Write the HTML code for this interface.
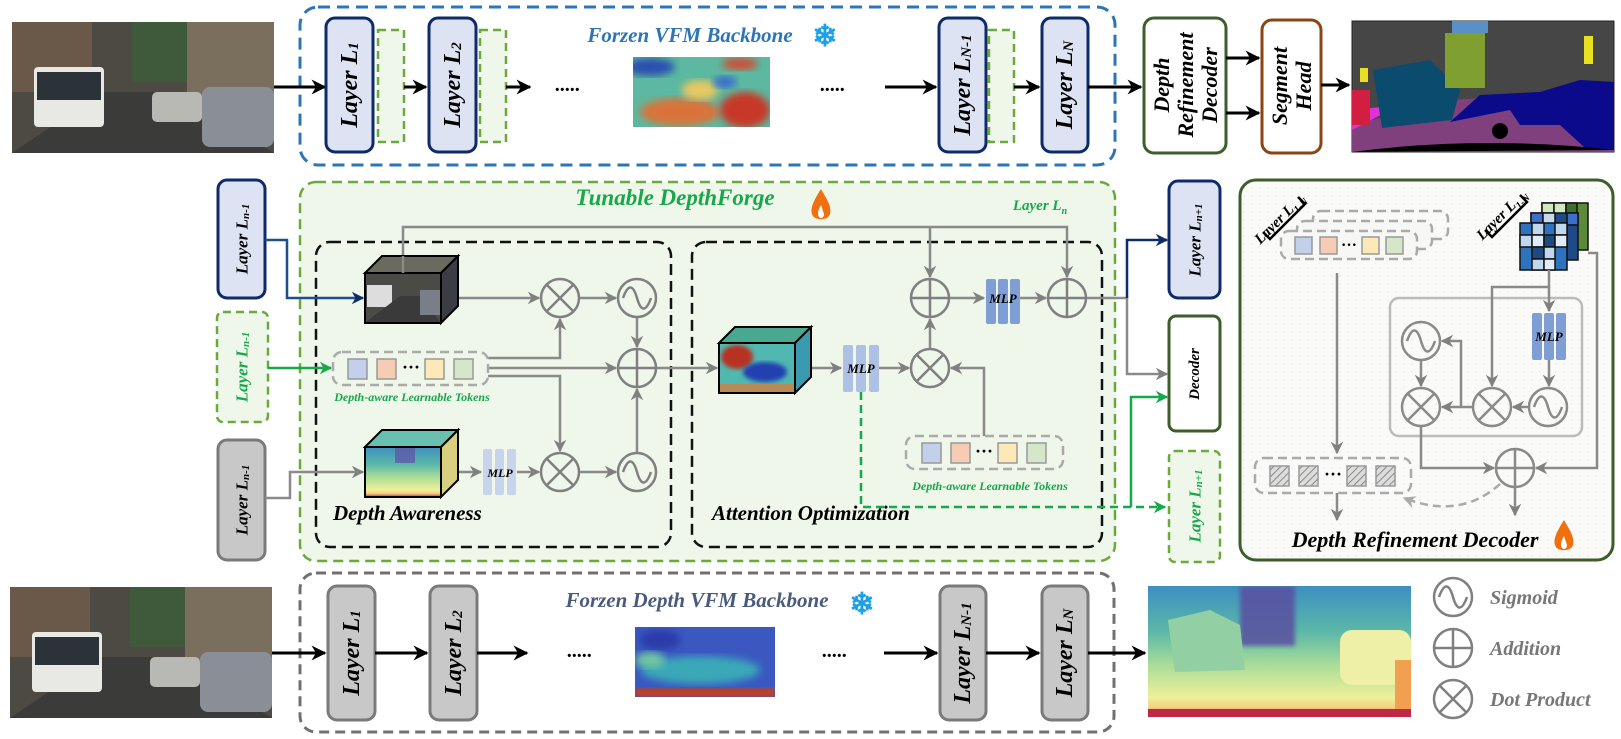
<!DOCTYPE html>
<html><head><meta charset="utf-8"><style>
html,body{margin:0;padding:0;background:#fff;}
svg{display:block;}
text{font-family:"Liberation Serif",serif;font-weight:bold;font-style:italic;}
</style></head><body>
<svg width="1621" height="739" viewBox="0 0 1621 739" xmlns="http://www.w3.org/2000/svg">
<defs>
<marker id="ab" viewBox="0 0 10 10" refX="9" refY="5" markerWidth="5" markerHeight="5" orient="auto"><path d="M0,0 L10,5 L0,10 L3,5z" fill="#000"/></marker>
<marker id="ag" viewBox="0 0 10 10" refX="9" refY="5" markerWidth="5" markerHeight="5" orient="auto"><path d="M0,0 L10,5 L0,10 L3,5z" fill="#808080"/></marker>
<marker id="an" viewBox="0 0 10 10" refX="9" refY="5" markerWidth="5" markerHeight="5" orient="auto"><path d="M0,0 L10,5 L0,10 L3,5z" fill="#0d2a6b"/></marker>
<marker id="agr" viewBox="0 0 10 10" refX="9" refY="5" markerWidth="5" markerHeight="5" orient="auto"><path d="M0,0 L10,5 L0,10 L3,5z" fill="#17a84a"/></marker>
<marker id="alg" viewBox="0 0 10 10" refX="9" refY="5" markerWidth="5" markerHeight="5" orient="auto"><path d="M0,0 L10,5 L0,10 L3,5z" fill="#aaa"/></marker>
<pattern id="hatch" width="5" height="5" patternUnits="userSpaceOnUse" patternTransform="rotate(45)"><rect width="5" height="5" fill="#ddd"/><line x1="0" y1="0" x2="0" y2="5" stroke="#888" stroke-width="2"/></pattern>
<pattern id="dots" width="8" height="8" patternUnits="userSpaceOnUse"><rect width="8" height="8" fill="#fafaf8"/><circle cx="4" cy="4" r="0.7" fill="#e4e8dc"/></pattern>
<linearGradient id="depthg" x1="0" y1="0" x2="0" y2="1"><stop offset="0" stop-color="#3d8fc0"/><stop offset="0.35" stop-color="#5cb8a8"/><stop offset="0.6" stop-color="#a8dc98"/><stop offset="0.85" stop-color="#eef09a"/><stop offset="0.93" stop-color="#f3d080"/><stop offset="1" stop-color="#c0304a"/></linearGradient>
<filter id="bl"><feGaussianBlur stdDeviation="4"/></filter>
<filter id="bl2"><feGaussianBlur stdDeviation="2"/></filter>
<clipPath id="c1"><rect x="633" y="57" width="137" height="70"/></clipPath>
<clipPath id="c2"><rect x="635" y="627" width="140" height="70"/></clipPath>
<clipPath id="c3"><rect x="1148" y="586" width="263" height="131"/></clipPath>
<g id="photo">
<rect x="0" y="0" width="262" height="131" fill="#4d4a44"/>
<rect x="0" y="0" width="80" height="70" fill="#6a5848"/>
<rect x="120" y="0" width="60" height="60" fill="#3f5a3a"/>
<rect x="175" y="0" width="87" height="80" fill="#7a6e5c"/>
<polygon points="0,131 90,70 160,70 262,131" fill="#3b3b3a"/>
<rect x="22" y="45" width="70" height="60" rx="4" fill="#e8e8e4"/>
<rect x="25" y="50" width="64" height="28" fill="#2b3238"/>
<rect x="190" y="65" width="72" height="60" rx="8" fill="#8a8e96"/>
<rect x="140" y="70" width="50" height="30" rx="5" fill="#b8b8b4"/>
</g>
</defs>

<!-- ===== TOP ROW ===== -->
<use href="#photo" x="12" y="22"/>
<rect x="300" y="7" width="815" height="158" rx="18" fill="none" stroke="#2e75b6" stroke-width="3" stroke-dasharray="12,7"/>
<text x="690" y="42" font-size="21" fill="#2e75b6" text-anchor="middle">Forzen VFM Backbone</text>
<text x="825" y="46" font-size="30" fill="#1ea0e6" text-anchor="middle" style="font-style:normal">❄</text>
<line x1="274" y1="87" x2="325" y2="87" stroke="#000" stroke-width="3" marker-end="url(#ab)"/>
<rect x="326" y="18" width="47" height="134" rx="9" fill="#dde3f3" stroke="#0d2a6b" stroke-width="3"/>
<rect x="378" y="30" width="26" height="112" fill="#eff6ea" stroke="#6aaa3a" stroke-width="2.5" stroke-dasharray="8,5"/>
<text transform="translate(350,85) rotate(-90)" font-size="24" text-anchor="middle" dominant-baseline="central">Layer L<tspan font-size="15" dy="4">1</tspan></text>
<line x1="404" y1="87" x2="426" y2="87" stroke="#000" stroke-width="3" marker-end="url(#ab)"/>
<rect x="429" y="18" width="47" height="134" rx="9" fill="#dde3f3" stroke="#0d2a6b" stroke-width="3"/>
<rect x="480" y="30" width="26" height="112" fill="#eff6ea" stroke="#6aaa3a" stroke-width="2.5" stroke-dasharray="8,5"/>
<text transform="translate(453,85) rotate(-90)" font-size="24" text-anchor="middle" dominant-baseline="central">Layer L<tspan font-size="15" dy="4">2</tspan></text>
<line x1="506" y1="87" x2="530" y2="87" stroke="#000" stroke-width="3" marker-end="url(#ab)"/>
<text x="568" y="91" font-size="20" text-anchor="middle">.....</text>
<g clip-path="url(#c1)">
<rect x="633" y="57" width="137" height="70" fill="#5cb8a0"/>
<ellipse cx="680" cy="112" rx="40" ry="14" fill="#d9733a" filter="url(#bl)"/>
<ellipse cx="745" cy="110" rx="25" ry="18" fill="#c83828" filter="url(#bl)"/>
<ellipse cx="650" cy="67" rx="25" ry="9" fill="#2a4fb0" filter="url(#bl)"/>
<ellipse cx="740" cy="64" rx="18" ry="6" fill="#d24a30" filter="url(#bl)"/>
<ellipse cx="700" cy="90" rx="18" ry="10" fill="#e8c860" filter="url(#bl)"/>
<ellipse cx="725" cy="82" rx="12" ry="6" fill="#3a6ad0" filter="url(#bl)"/>
</g>
<text x="833" y="91" font-size="20" text-anchor="middle">.....</text>
<line x1="885" y1="87" x2="936" y2="87" stroke="#000" stroke-width="3" marker-end="url(#ab)"/>
<rect x="939" y="18" width="47" height="134" rx="9" fill="#dde3f3" stroke="#0d2a6b" stroke-width="3"/>
<rect x="989" y="30" width="25" height="112" fill="#eff6ea" stroke="#6aaa3a" stroke-width="2.5" stroke-dasharray="8,5"/>
<text transform="translate(963,85) rotate(-90)" font-size="24" text-anchor="middle" dominant-baseline="central">Layer L<tspan font-size="15" dy="4">N-1</tspan></text>
<line x1="1014" y1="87" x2="1039" y2="87" stroke="#000" stroke-width="3" marker-end="url(#ab)"/>
<rect x="1042" y="18" width="46" height="134" rx="9" fill="#dde3f3" stroke="#0d2a6b" stroke-width="3"/>
<text transform="translate(1065,85) rotate(-90)" font-size="24" text-anchor="middle" dominant-baseline="central">Layer L<tspan font-size="15" dy="4">N</tspan></text>
<line x1="1088" y1="87" x2="1141" y2="87" stroke="#000" stroke-width="3" marker-end="url(#ab)"/>
<rect x="1144" y="18" width="82" height="135" rx="10" fill="#fff" stroke="#3d5e2a" stroke-width="3"/>
<text transform="translate(1185,85) rotate(-90)" font-size="22" text-anchor="middle"><tspan x="0" dy="-16">Depth</tspan><tspan x="0" dy="24">Refinement</tspan><tspan x="0" dy="24">Decoder</tspan></text>
<line x1="1226" y1="58" x2="1259" y2="58" stroke="#000" stroke-width="3" marker-end="url(#ab)"/>
<line x1="1226" y1="113" x2="1259" y2="113" stroke="#000" stroke-width="3" marker-end="url(#ab)"/>
<rect x="1262" y="20" width="59" height="133" rx="10" fill="#fff" stroke="#8b4513" stroke-width="3"/>
<text transform="translate(1291,86) rotate(-90)" font-size="22" text-anchor="middle"><tspan x="0" dy="-4">Segment</tspan><tspan x="0" dy="24">Head</tspan></text>
<line x1="1321" y1="85" x2="1349" y2="85" stroke="#000" stroke-width="3" marker-end="url(#ab)"/>
<rect x="1352" y="21" width="262" height="131" fill="#464646" stroke="#222" stroke-width="1"/>
<polygon points="1352,125 1450,100 1530,95 1614,100 1614,152 1352,152" fill="#80407e"/>
<polygon points="1352,110 1400,105 1352,130" fill="#e030d8"/>
<rect x="1352" y="90" width="18" height="35" fill="#d21e40"/>
<polygon points="1373,70 1430,60 1460,90 1452,120 1382,128" fill="#0b4c6e"/>
<polygon points="1450,122 1480,95 1540,92 1580,80 1614,82 1614,150 1585,148 1560,125 1520,125 1510,110" fill="#0a0a8a"/>
<rect x="1445" y="33" width="40" height="55" fill="#7fa030"/>
<rect x="1452" y="21" width="36" height="12" fill="#5a90c8"/>
<rect x="1584" y="36" width="9" height="28" fill="#e8e020"/>
<rect x="1360" y="68" width="8" height="14" fill="#e8e020"/>
<path d="M1352,152 Q1480,135 1614,150 Z" fill="#000"/>
<circle cx="1500" cy="131" r="8" fill="#000"/>

<!-- ===== MIDDLE ===== -->
<rect x="218" y="180" width="47" height="118" rx="9" fill="#dde3f3" stroke="#0d2a6b" stroke-width="3"/>
<text transform="translate(242,239) rotate(-90)" font-size="17" text-anchor="middle" dominant-baseline="central">Layer L<tspan font-size="11" dy="4">n-1</tspan></text>
<rect x="217" y="312" width="51" height="110" rx="6" fill="#eff6ea" stroke="#6aaa3a" stroke-width="2.5" stroke-dasharray="8,5"/>
<text transform="translate(242,367) rotate(-90)" font-size="17" fill="#17a84a" text-anchor="middle" dominant-baseline="central">Layer L<tspan font-size="11" dy="4">n-1</tspan></text>
<rect x="218" y="440" width="47" height="120" rx="9" fill="#c8c8c8" stroke="#7a7a7a" stroke-width="3"/>
<text transform="translate(242,500) rotate(-90)" font-size="17" text-anchor="middle" dominant-baseline="central">Layer L<tspan font-size="11" dy="4">n-1</tspan></text>

<rect x="300" y="182" width="815" height="379" rx="16" fill="#eff6ea" stroke="#6aaa3a" stroke-width="2.5" stroke-dasharray="10,6"/>
<text x="675" y="205" font-size="23" fill="#17a84a" text-anchor="middle">Tunable DepthForge</text>
<path d="M821,189 C814,200 810,208 812,214 C814,221 828,221 830,214 C832,206 826,198 821,189Z" fill="#f07010"/>
<path d="M821,205 C818,210 817,214 819,217 C821,219 824,218 824,214 Z" fill="#fff"/>
<text x="1040" y="210" font-size="15" fill="#17a84a" text-anchor="middle">Layer L<tspan font-size="10" dy="4">n</tspan></text>

<rect x="316" y="242" width="355" height="305" rx="14" fill="none" stroke="#111" stroke-width="2.5" stroke-dasharray="11,6"/>
<rect x="692" y="242" width="410" height="305" rx="14" fill="none" stroke="#111" stroke-width="2.5" stroke-dasharray="11,6"/>
<text x="333" y="520" font-size="21">Depth Awareness</text>
<text x="712" y="520" font-size="21">Attention Optimization</text>

<g stroke="#8a8a8a" stroke-width="2.5" fill="none">
<polyline points="403,273 403,227 1067,227 1067,277" marker-end="url(#ag)"/>
<line x1="930" y1="227" x2="930" y2="277" marker-end="url(#ag)"/>
<line x1="441" y1="298" x2="539" y2="298" marker-end="url(#ag)"/>
<line x1="579" y1="298" x2="616" y2="298" marker-end="url(#ag)"/>
<line x1="637" y1="317" x2="637" y2="347" marker-end="url(#ag)"/>
<polyline points="488,358 560,358 560,319" marker-end="url(#ag)"/>
<line x1="488" y1="368" x2="616" y2="368" marker-end="url(#ag)"/>
<polyline points="488,376 560,376 560,451" marker-end="url(#ag)"/>
<line x1="441" y1="472" x2="481" y2="472" marker-end="url(#ag)"/>
<line x1="517" y1="472" x2="539" y2="472" marker-end="url(#ag)"/>
<line x1="579" y1="472" x2="616" y2="472" marker-end="url(#ag)"/>
<line x1="637" y1="453" x2="637" y2="389" marker-end="url(#ag)"/>
<polyline points="265,498 290,498 290,472 363,472" marker-end="url(#ag)"/>
<line x1="656" y1="368" x2="717" y2="368" marker-end="url(#ag)"/>
<line x1="795" y1="368" x2="841" y2="368" marker-end="url(#ag)"/>
<line x1="878" y1="368" x2="909" y2="368" marker-end="url(#ag)"/>
<line x1="930" y1="349" x2="930" y2="319" marker-end="url(#ag)"/>
<line x1="949" y1="298" x2="984" y2="298" marker-end="url(#ag)"/>
<line x1="1019" y1="298" x2="1046" y2="298" marker-end="url(#ag)"/>
<polyline points="984,436 984,368 951,368" marker-end="url(#ag)"/>
<polyline points="1086,298 1127,298 1127,374 1167,374" marker-end="url(#ag)"/>
</g>
<polyline points="265,240 287,240 287,298 363,298" fill="none" stroke="#1f4e8c" stroke-width="2.5" marker-end="url(#an)"/>
<line x1="268" y1="368" x2="331" y2="368" stroke="#17a84a" stroke-width="2.5" marker-end="url(#agr)"/>
<polyline points="1127,298 1127,240 1167,240" fill="none" stroke="#0d2a6b" stroke-width="2.5" marker-end="url(#an)"/>
<polyline points="861,392 861,507 1165,507" fill="none" stroke="#17a84a" stroke-width="2.5" stroke-dasharray="8,5" marker-end="url(#agr)"/>
<polyline points="1131,507 1131,397 1167,397" fill="none" stroke="#17a84a" stroke-width="2.5" marker-end="url(#agr)"/>

<!-- cube1 photo -->
<polygon points="365,273 382,256 458,256 441,273" fill="#6a6a5e" stroke="#000" stroke-width="2"/>
<polygon points="441,273 458,256 458,306 441,323" fill="#3a3d44" stroke="#000" stroke-width="2"/>
<rect x="365" y="273" width="76" height="50" fill="#4a4a46" stroke="#000" stroke-width="2"/>
<rect x="367" y="285" width="25" height="22" fill="#ddd"/>
<polygon points="366,322 400,296 420,296 440,322" fill="#3a3a3a"/>
<rect x="420" y="290" width="20" height="25" fill="#7a7e88"/>
<line x1="403" y1="273" x2="403" y2="256" stroke="#8a8a8a" stroke-width="2.5"/>
<!-- cube2 depth -->
<polygon points="365,447 382,430 458,430 441,447" fill="#6ac0b0" stroke="#000" stroke-width="2"/>
<polygon points="441,447 458,430 458,480 441,497" fill="#d8d080" stroke="#000" stroke-width="2"/>
<rect x="365" y="447" width="76" height="50" fill="url(#depthg)" stroke="#000" stroke-width="2"/>
<rect x="395" y="448" width="20" height="15" fill="#5c5aa8" opacity="0.8"/>
<!-- cube3 heat -->
<polygon points="719,343 735,327 811,327 795,343" fill="#4aa890" stroke="#000" stroke-width="2"/>
<polygon points="795,343 811,327 811,377 795,393" fill="#3a9ab0" stroke="#000" stroke-width="2"/>
<rect x="719" y="343" width="76" height="50" fill="#50b8b0" stroke="#000" stroke-width="2"/>
<ellipse cx="737" cy="357" rx="16" ry="12" fill="#b83020" filter="url(#bl2)"/>
<ellipse cx="765" cy="372" rx="22" ry="10" fill="#2040b0" filter="url(#bl2)"/>
<rect x="720" y="384" width="74" height="8" fill="#d08040" opacity="0.8"/>

<!-- MLPs -->
<g fill="#c8d4ec"><rect x="483" y="449" width="9" height="46" rx="2"/><rect x="495" y="449" width="9" height="46" rx="2"/><rect x="507" y="449" width="9" height="46" rx="2"/></g>
<text x="500" y="477" font-size="12" text-anchor="middle">MLP</text>
<g fill="#aec0e4"><rect x="843" y="345" width="10" height="47" rx="2"/><rect x="856" y="345" width="10" height="47" rx="2"/><rect x="869" y="345" width="10" height="47" rx="2"/></g>
<text x="861" y="373" font-size="13" text-anchor="middle">MLP</text>
<g fill="#7f9ed6"><rect x="986" y="279" width="10" height="45" rx="2"/><rect x="998" y="279" width="10" height="45" rx="2"/><rect x="1010" y="279" width="10" height="45" rx="2"/></g>
<text x="1003" y="303" font-size="13" text-anchor="middle">MLP</text>

<!-- circles -->
<g stroke="#808080" stroke-width="2.5" fill="none">
<circle cx="560" cy="298" r="19"/><path d="M547,285 L573,311 M573,285 L547,311"/>
<circle cx="560" cy="472" r="19"/><path d="M547,459 L573,485 M573,459 L547,485"/>
<circle cx="930" cy="368" r="19"/><path d="M917,355 L943,381 M943,355 L917,381"/>
<circle cx="637" cy="298" r="19"/><path d="M623,298 C628,284 633,284 637,298 S646,312 651,298"/>
<circle cx="637" cy="472" r="19"/><path d="M623,472 C628,458 633,458 637,472 S646,486 651,472"/>
<circle cx="637" cy="368" r="19"/><path d="M618,368 H656 M637,349 V387"/>
<circle cx="930" cy="298" r="19"/><path d="M911,298 H949 M930,279 V317"/>
<circle cx="1067" cy="298" r="19"/><path d="M1048,298 H1086 M1067,279 V317"/>
</g>

<!-- tokens 1 -->
<rect x="333" y="352" width="155" height="33" rx="9" fill="none" stroke="#aaa" stroke-width="2.5" stroke-dasharray="9,5"/>
<g stroke="#999" stroke-width="1.5"><rect x="348" y="359" width="19" height="20" fill="#c2d0ec"/><rect x="377" y="359" width="19" height="20" fill="#f6cdb4"/><rect x="425" y="359" width="19" height="20" fill="#fde9b8"/><rect x="454" y="359" width="19" height="20" fill="#d4e7c8"/></g>
<text x="411" y="373" font-size="18" text-anchor="middle" style="font-style:normal">···</text>
<text x="412" y="401" font-size="12" fill="#17a84a" text-anchor="middle">Depth-aware Learnable Tokens</text>
<!-- tokens 2 -->
<rect x="906" y="436" width="157" height="33" rx="9" fill="none" stroke="#aaa" stroke-width="2.5" stroke-dasharray="9,5"/>
<g stroke="#999" stroke-width="1.5"><rect x="922" y="443" width="19" height="20" fill="#c2d0ec"/><rect x="951" y="443" width="19" height="20" fill="#f6cdb4"/><rect x="998" y="443" width="19" height="20" fill="#fde9b8"/><rect x="1027" y="443" width="19" height="20" fill="#d4e7c8"/></g>
<text x="984" y="457" font-size="18" text-anchor="middle" style="font-style:normal">···</text>
<text x="990" y="490" font-size="12" fill="#17a84a" text-anchor="middle">Depth-aware Learnable Tokens</text>

<!-- right column -->
<rect x="1169" y="181" width="51" height="117" rx="9" fill="#dde3f3" stroke="#0d2a6b" stroke-width="3"/>
<text transform="translate(1195,240) rotate(-90)" font-size="17" text-anchor="middle" dominant-baseline="central">Layer L<tspan font-size="11" dy="4">n+1</tspan></text>
<rect x="1169" y="316" width="51" height="115" rx="7" fill="#fff" stroke="#3d5e2a" stroke-width="3"/>
<text transform="translate(1195,374) rotate(-90)" font-size="15" text-anchor="middle" dominant-baseline="central">Decoder</text>
<rect x="1169" y="451" width="51" height="111" rx="6" fill="#eff6ea" stroke="#6aaa3a" stroke-width="2.5" stroke-dasharray="8,5"/>
<text transform="translate(1195,506) rotate(-90)" font-size="17" fill="#17a84a" text-anchor="middle" dominant-baseline="central">Layer L<tspan font-size="11" dy="4">n+1</tspan></text>

<!-- DRD -->
<rect x="1240" y="180" width="373" height="380" rx="16" fill="url(#dots)" stroke="#3d5e2a" stroke-width="3"/>
<text transform="translate(1283,222) rotate(-45)" font-size="15" text-anchor="middle">Layer L<tspan font-size="10" dy="4">1-N</tspan></text>
<polyline points="1263,232 1270,239 1305,204 1298,197" fill="none" stroke="#000" stroke-width="2.5"/>
<rect x="1313" y="211" width="135" height="28" rx="8" fill="none" stroke="#aaa" stroke-width="2.5" stroke-dasharray="9,5"/>
<rect x="1297" y="221" width="135" height="28" rx="8" fill="#f7f7f5" stroke="#aaa" stroke-width="2.5" stroke-dasharray="9,5"/>
<rect x="1281" y="231" width="136" height="28" rx="8" fill="#f7f7f5" stroke="#aaa" stroke-width="2.5" stroke-dasharray="9,5"/>
<g stroke="#999" stroke-width="1.5"><rect x="1295" y="237" width="17" height="17" fill="#c2d0ec"/><rect x="1320" y="237" width="17" height="17" fill="#f6cdb4"/><rect x="1362" y="237" width="17" height="17" fill="#fde9b8"/><rect x="1386" y="237" width="17" height="17" fill="#d4e7c8"/></g>
<text x="1349" y="250" font-size="16" text-anchor="middle" style="font-style:normal">···</text>
<text transform="translate(1505,218) rotate(-45)" font-size="15" text-anchor="middle">Layer L<tspan font-size="10" dy="4">1-N</tspan></text>
<polyline points="1485,230 1492,237 1527,202 1520,195" fill="none" stroke="#000" stroke-width="2.5"/>
<!-- matrices -->
<g stroke="#111" stroke-width="1.5">
<rect x="1542" y="203" width="46" height="47" fill="#5a8a3a"/>
<rect x="1542" y="203" width="12" height="12" fill="#cfe8c0"/><rect x="1554" y="203" width="12" height="12" fill="#cfe8c0"/><rect x="1566" y="203" width="11" height="12" fill="#3f6e2a"/>
<rect x="1531" y="213" width="47" height="47" fill="#1e4a86"/>
<rect x="1531" y="213" width="12" height="12" fill="#3a70c8"/><rect x="1543" y="213" width="12" height="12" fill="#c8d8ee"/><rect x="1567" y="213" width="11" height="12" fill="#3a70c8"/>
<rect x="1520" y="223" width="47" height="47" fill="#2f72bd"/>
<rect x="1532" y="223" width="12" height="12" fill="#c0d8ee"/><rect x="1555" y="223" width="12" height="12" fill="#c0d8ee"/>
<rect x="1520" y="235" width="12" height="12" fill="#c0d8ee"/><rect x="1532" y="235" width="12" height="12" fill="#e0ecf8"/><rect x="1544" y="235" width="11" height="12" fill="#1d4a80"/><rect x="1555" y="235" width="12" height="12" fill="#e0ecf8"/>
<rect x="1532" y="247" width="12" height="12" fill="#1d4a80"/><rect x="1544" y="247" width="11" height="12" fill="#c0d8ee"/>
<rect x="1532" y="259" width="12" height="11" fill="#c0d8ee"/><rect x="1544" y="259" width="11" height="11" fill="#e0ecf8"/>
</g>
<rect x="1390" y="298" width="192" height="138" rx="9" fill="none" stroke="#bbb" stroke-width="2.5"/>
<g stroke="#8a8a8a" stroke-width="2.5" fill="none">
<polyline points="1549,270 1549,287 1492,287 1492,386" marker-end="url(#ag)"/>
<line x1="1549" y1="287" x2="1549" y2="311" marker-end="url(#ag)"/>
<line x1="1549" y1="360" x2="1549" y2="386" marker-end="url(#ag)"/>
<line x1="1529" y1="407" x2="1513" y2="407" marker-end="url(#ag)"/>
<line x1="1473" y1="407" x2="1442" y2="407" marker-end="url(#ag)"/>
<polyline points="1461,407 1461,341 1442,341" marker-end="url(#ag)"/>
<line x1="1421" y1="360" x2="1421" y2="386" marker-end="url(#ag)"/>
<polyline points="1421,426 1421,468 1494,468" marker-end="url(#ag)"/>
<polyline points="1588,253 1597,253 1597,468 1536,468" marker-end="url(#ag)"/>
<line x1="1515" y1="487" x2="1515" y2="515" marker-end="url(#ag)"/>
<line x1="1337" y1="273" x2="1337" y2="453" marker-end="url(#ag)"/>
<line x1="1337" y1="493" x2="1337" y2="520" marker-end="url(#ag)"/>
<circle cx="1421" cy="341" r="19"/><path d="M1407,341 C1412,327 1417,327 1421,341 S1430,355 1435,341"/>
<circle cx="1548" cy="407" r="19"/><path d="M1534,407 C1539,393 1544,393 1548,407 S1557,421 1562,407"/>
<circle cx="1421" cy="407" r="19"/><path d="M1408,394 L1434,420 M1434,394 L1408,420"/>
<circle cx="1492" cy="407" r="19"/><path d="M1479,394 L1505,420 M1505,394 L1479,420"/>
<circle cx="1515" cy="468" r="19"/><path d="M1496,468 H1534 M1515,449 V487"/>
</g>
<path d="M1500,484 Q1460,520 1404,498" fill="none" stroke="#aaa" stroke-width="2.5" stroke-dasharray="8,5" marker-end="url(#alg)"/>
<g fill="#7f9ed6"><rect x="1532" y="313" width="10" height="47" rx="2"/><rect x="1544" y="313" width="10" height="47" rx="2"/><rect x="1556" y="313" width="10" height="47" rx="2"/></g>
<text x="1549" y="341" font-size="13" text-anchor="middle">MLP</text>
<rect x="1255" y="458" width="156" height="35" rx="9" fill="none" stroke="#aaa" stroke-width="2.5" stroke-dasharray="9,5"/>
<g stroke="#999" stroke-width="1.5"><rect x="1270" y="466" width="19" height="20" fill="url(#hatch)"/><rect x="1299" y="466" width="19" height="20" fill="url(#hatch)"/><rect x="1347" y="466" width="19" height="20" fill="url(#hatch)"/><rect x="1376" y="466" width="19" height="20" fill="url(#hatch)"/></g>
<text x="1333" y="480" font-size="18" text-anchor="middle" style="font-style:normal">···</text>
<text x="1415" y="547" font-size="22" text-anchor="middle">Depth Refinement Decoder</text>
<path d="M1564,520 C1557,531 1553,539 1555,545 C1557,552 1571,552 1573,545 C1575,537 1569,529 1564,520Z" fill="#f07010"/>
<path d="M1564,536 C1561,541 1560,545 1562,548 C1564,550 1567,549 1567,545 Z" fill="#fff"/>

<!-- ===== BOTTOM ===== -->
<use href="#photo" x="10" y="587"/>
<rect x="300" y="573" width="814" height="159" rx="16" fill="none" stroke="#707070" stroke-width="3" stroke-dasharray="10,6"/>
<text x="697" y="607" font-size="21" fill="#4a5a7a" text-anchor="middle">Forzen Depth VFM Backbone</text>
<text x="862" y="614" font-size="30" fill="#1ea0e6" text-anchor="middle" style="font-style:normal">❄</text>
<line x1="272" y1="653" x2="325" y2="653" stroke="#000" stroke-width="3" marker-end="url(#ab)"/>
<rect x="328" y="586" width="47" height="134" rx="9" fill="#c8c8c8" stroke="#7a7a7a" stroke-width="3"/>
<text transform="translate(352,653) rotate(-90)" font-size="24" text-anchor="middle" dominant-baseline="central">Layer L<tspan font-size="15" dy="4">1</tspan></text>
<line x1="375" y1="653" x2="427" y2="653" stroke="#000" stroke-width="3" marker-end="url(#ab)"/>
<rect x="430" y="586" width="47" height="134" rx="9" fill="#c8c8c8" stroke="#7a7a7a" stroke-width="3"/>
<text transform="translate(454,653) rotate(-90)" font-size="24" text-anchor="middle" dominant-baseline="central">Layer L<tspan font-size="15" dy="4">2</tspan></text>
<line x1="477" y1="653" x2="527" y2="653" stroke="#000" stroke-width="3" marker-end="url(#ab)"/>
<text x="580" y="657" font-size="20" text-anchor="middle">.....</text>
<g clip-path="url(#c2)">
<rect x="635" y="627" width="140" height="70" fill="#3a58c0"/>
<ellipse cx="700" cy="670" rx="60" ry="14" fill="#3aa8b8" filter="url(#bl)"/>
<ellipse cx="660" cy="640" rx="20" ry="10" fill="#2a3aa8" filter="url(#bl)"/>
<ellipse cx="650" cy="660" rx="15" ry="8" fill="#70c8a0" filter="url(#bl)"/>
<rect x="635" y="688" width="140" height="9" fill="#c04020" filter="url(#bl2)"/>
</g>
<text x="835" y="657" font-size="20" text-anchor="middle">.....</text>
<line x1="884" y1="653" x2="937" y2="653" stroke="#000" stroke-width="3" marker-end="url(#ab)"/>
<rect x="940" y="586" width="46" height="134" rx="9" fill="#c8c8c8" stroke="#7a7a7a" stroke-width="3"/>
<text transform="translate(963,653) rotate(-90)" font-size="24" text-anchor="middle" dominant-baseline="central">Layer L<tspan font-size="15" dy="4">N-1</tspan></text>
<line x1="986" y1="653" x2="1039" y2="653" stroke="#000" stroke-width="3" marker-end="url(#ab)"/>
<rect x="1042" y="586" width="46" height="134" rx="9" fill="#c8c8c8" stroke="#7a7a7a" stroke-width="3"/>
<text transform="translate(1065,653) rotate(-90)" font-size="24" text-anchor="middle" dominant-baseline="central">Layer L<tspan font-size="15" dy="4">N</tspan></text>
<line x1="1088" y1="653" x2="1145" y2="653" stroke="#000" stroke-width="3" marker-end="url(#ab)"/>
<g clip-path="url(#c3)">
<rect x="1148" y="586" width="263" height="131" fill="url(#depthg)"/>
<rect x="1240" y="586" width="55" height="60" fill="#5a4fa0" opacity="0.85" filter="url(#bl2)"/>
<polygon points="1168,620 1210,610 1240,625 1245,670 1175,672" fill="#92d0a4"/>
<rect x="1340" y="630" width="71" height="55" rx="12" fill="#eef0a8"/>
<rect x="1395" y="660" width="16" height="57" fill="#f0a050"/>
<rect x="1148" y="709" width="263" height="8" fill="#c02848"/>
</g>

<!-- legend -->
<g stroke="#808080" stroke-width="2.5" fill="none">
<circle cx="1453" cy="597" r="19"/><path d="M1439,597 C1444,583 1449,583 1453,597 S1462,611 1467,597"/>
<circle cx="1453" cy="648" r="19"/><path d="M1434,648 H1472 M1453,629 V667"/>
<circle cx="1453" cy="699" r="19"/><path d="M1440,686 L1466,712 M1466,686 L1440,712"/>
</g>
<g font-size="20" fill="#777"><text x="1490" y="604">Sigmoid</text><text x="1490" y="655">Addition</text><text x="1490" y="706">Dot Product</text></g>
</svg>
</body></html>
